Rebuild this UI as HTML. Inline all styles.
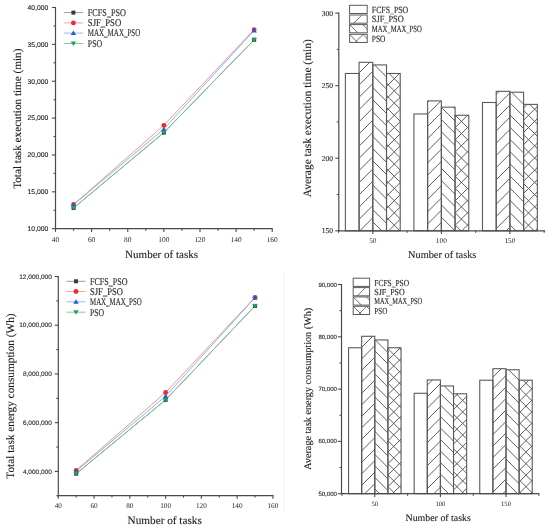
<!DOCTYPE html>
<html><head><meta charset="utf-8"><style>
html,body{margin:0;padding:0;background:#fff;width:550px;height:530px;overflow:hidden}
svg{display:block;filter:blur(0.35px)} text{text-rendering:geometricPrecision}
</style></head><body>
<svg width="550" height="530" viewBox="0 0 550 530">
<rect width="550" height="530" fill="#fff"/>
<defs><clipPath id="clip1"><rect x="0" y="0" width="275" height="265"/></clipPath></defs>
<line x1="284" y1="272" x2="284" y2="511" stroke="#f1f1f1" stroke-width="1"/>
<g>
<line x1="55.50" y1="6.90" x2="55.50" y2="229.30" stroke="#4a4a4a" stroke-width="1.2" />
<line x1="54.90" y1="228.70" x2="272.80" y2="228.70" stroke="#4a4a4a" stroke-width="1.2" />
<line x1="51.90" y1="228.70" x2="55.50" y2="228.70" stroke="#4a4a4a" stroke-width="1.1" />
<line x1="53.50" y1="210.27" x2="55.50" y2="210.27" stroke="#4a4a4a" stroke-width="1.1" />
<line x1="51.90" y1="191.83" x2="55.50" y2="191.83" stroke="#4a4a4a" stroke-width="1.1" />
<line x1="53.50" y1="173.40" x2="55.50" y2="173.40" stroke="#4a4a4a" stroke-width="1.1" />
<line x1="51.90" y1="154.97" x2="55.50" y2="154.97" stroke="#4a4a4a" stroke-width="1.1" />
<line x1="53.50" y1="136.53" x2="55.50" y2="136.53" stroke="#4a4a4a" stroke-width="1.1" />
<line x1="51.90" y1="118.10" x2="55.50" y2="118.10" stroke="#4a4a4a" stroke-width="1.1" />
<line x1="53.50" y1="99.67" x2="55.50" y2="99.67" stroke="#4a4a4a" stroke-width="1.1" />
<line x1="51.90" y1="81.23" x2="55.50" y2="81.23" stroke="#4a4a4a" stroke-width="1.1" />
<line x1="53.50" y1="62.80" x2="55.50" y2="62.80" stroke="#4a4a4a" stroke-width="1.1" />
<line x1="51.90" y1="44.37" x2="55.50" y2="44.37" stroke="#4a4a4a" stroke-width="1.1" />
<line x1="53.50" y1="25.93" x2="55.50" y2="25.93" stroke="#4a4a4a" stroke-width="1.1" />
<line x1="51.90" y1="7.50" x2="55.50" y2="7.50" stroke="#4a4a4a" stroke-width="1.1" />
<line x1="55.50" y1="228.70" x2="55.50" y2="231.90" stroke="#4a4a4a" stroke-width="1.1" />
<line x1="73.56" y1="228.70" x2="73.56" y2="230.70" stroke="#4a4a4a" stroke-width="1.1" />
<line x1="91.62" y1="228.70" x2="91.62" y2="231.90" stroke="#4a4a4a" stroke-width="1.1" />
<line x1="109.67" y1="228.70" x2="109.67" y2="230.70" stroke="#4a4a4a" stroke-width="1.1" />
<line x1="127.73" y1="228.70" x2="127.73" y2="231.90" stroke="#4a4a4a" stroke-width="1.1" />
<line x1="145.79" y1="228.70" x2="145.79" y2="230.70" stroke="#4a4a4a" stroke-width="1.1" />
<line x1="163.85" y1="228.70" x2="163.85" y2="231.90" stroke="#4a4a4a" stroke-width="1.1" />
<line x1="181.91" y1="228.70" x2="181.91" y2="230.70" stroke="#4a4a4a" stroke-width="1.1" />
<line x1="199.97" y1="228.70" x2="199.97" y2="231.90" stroke="#4a4a4a" stroke-width="1.1" />
<line x1="218.02" y1="228.70" x2="218.02" y2="230.70" stroke="#4a4a4a" stroke-width="1.1" />
<line x1="236.08" y1="228.70" x2="236.08" y2="231.90" stroke="#4a4a4a" stroke-width="1.1" />
<line x1="254.14" y1="228.70" x2="254.14" y2="230.70" stroke="#4a4a4a" stroke-width="1.1" />
<line x1="272.20" y1="228.70" x2="272.20" y2="231.90" stroke="#4a4a4a" stroke-width="1.1" />
<text x="48.40" y="231.03" font-family='"Liberation Sans", sans-serif' font-size="6.8" fill="#262626" stroke="#262626" stroke-width="0.12" text-anchor="end" >10,000</text>
<text x="48.40" y="194.16" font-family='"Liberation Sans", sans-serif' font-size="6.8" fill="#262626" stroke="#262626" stroke-width="0.12" text-anchor="end" >15,000</text>
<text x="48.40" y="157.30" font-family='"Liberation Sans", sans-serif' font-size="6.8" fill="#262626" stroke="#262626" stroke-width="0.12" text-anchor="end" >20,000</text>
<text x="48.40" y="120.43" font-family='"Liberation Sans", sans-serif' font-size="6.8" fill="#262626" stroke="#262626" stroke-width="0.12" text-anchor="end" >25,000</text>
<text x="48.40" y="83.56" font-family='"Liberation Sans", sans-serif' font-size="6.8" fill="#262626" stroke="#262626" stroke-width="0.12" text-anchor="end" >30,000</text>
<text x="48.40" y="46.70" font-family='"Liberation Sans", sans-serif' font-size="6.8" fill="#262626" stroke="#262626" stroke-width="0.12" text-anchor="end" >35,000</text>
<text x="48.40" y="9.83" font-family='"Liberation Sans", sans-serif' font-size="6.8" fill="#262626" stroke="#262626" stroke-width="0.12" text-anchor="end" >40,000</text>
<text x="55.50" y="241.60" font-family='"Liberation Serif", serif' font-size="7.4" fill="#262626" stroke="#262626" stroke-width="0.0" text-anchor="middle" >40</text>
<text x="91.62" y="241.60" font-family='"Liberation Serif", serif' font-size="7.4" fill="#262626" stroke="#262626" stroke-width="0.0" text-anchor="middle" >60</text>
<text x="127.73" y="241.60" font-family='"Liberation Serif", serif' font-size="7.4" fill="#262626" stroke="#262626" stroke-width="0.0" text-anchor="middle" >80</text>
<text x="163.85" y="241.60" font-family='"Liberation Serif", serif' font-size="7.4" fill="#262626" stroke="#262626" stroke-width="0.0" text-anchor="middle" >100</text>
<text x="199.97" y="241.60" font-family='"Liberation Serif", serif' font-size="7.4" fill="#262626" stroke="#262626" stroke-width="0.0" text-anchor="middle" >120</text>
<text x="236.08" y="241.60" font-family='"Liberation Serif", serif' font-size="7.4" fill="#262626" stroke="#262626" stroke-width="0.0" text-anchor="middle" >140</text>
<text x="272.20" y="241.60" font-family='"Liberation Serif", serif' font-size="7.4" fill="#262626" stroke="#262626" stroke-width="0.0" text-anchor="middle" >160</text>
<text x="125.10" y="257.60" font-family='"Liberation Serif", serif' font-size="11" fill="#1a1a1a" stroke="#1a1a1a" stroke-width="0.1" text-anchor="start" textLength="72.90" lengthAdjust="spacingAndGlyphs">Number of tasks</text>
<text x="0" y="0" transform="translate(20.80,118.70) rotate(-90)" font-family='"Liberation Serif", serif' font-size="11.2" fill="#1a1a1a" stroke="#1a1a1a" stroke-width="0.1" text-anchor="middle">Total task execution time (min)</text>
<polyline points="73.56,208.00 163.85,132.60 254.14,39.80" fill="none" stroke="#909090" stroke-width="1.0"/>
<polyline points="73.56,204.50 163.85,125.30 254.14,29.60" fill="none" stroke="#f39696" stroke-width="1.0"/>
<polyline points="73.56,204.80 163.85,129.00 254.14,30.50" fill="none" stroke="#8fb1f0" stroke-width="1.0"/>
<polyline points="73.56,208.00 163.85,132.60 254.14,39.80" fill="none" stroke="#7cc39a" stroke-width="1.0"/>
<rect x="71.56" y="206.00" width="4.00" height="4.00" fill="#333d38"/>
<rect x="161.85" y="130.60" width="4.00" height="4.00" fill="#333d38"/>
<rect x="252.14" y="37.80" width="4.00" height="4.00" fill="#333d38"/>
<circle cx="73.56" cy="204.50" r="2.40" fill="#f02a2a"/>
<circle cx="163.85" cy="125.30" r="2.40" fill="#f02a2a"/>
<circle cx="254.14" cy="29.60" r="2.40" fill="#f02a2a"/>
<polygon points="73.56,202.20 76.26,206.80 70.86,206.80" fill="#1c5ce0"/>
<polygon points="163.85,126.40 166.55,131.00 161.15,131.00" fill="#1c5ce0"/>
<polygon points="254.14,27.90 256.84,32.50 251.44,32.50" fill="#1c5ce0"/>
<polygon points="73.56,210.60 76.26,206.00 70.86,206.00" fill="#23a05a"/>
<polygon points="163.85,135.20 166.55,130.60 161.15,130.60" fill="#23a05a"/>
<polygon points="254.14,42.40 256.84,37.80 251.44,37.80" fill="#23a05a"/>
<line x1="63.80" y1="12.60" x2="83.10" y2="12.60" stroke="#909090" stroke-width="0.9" />
<rect x="71.40" y="10.60" width="4.00" height="4.00" fill="#333d38"/>
<text x="87.80" y="15.95" font-family='"Liberation Serif", serif' font-size="10.31" fill="#2a2a2a" stroke="#2a2a2a" stroke-width="0.15" textLength="38.16" lengthAdjust="spacingAndGlyphs">FCFS_PSO</text>
<line x1="63.80" y1="22.90" x2="83.10" y2="22.90" stroke="#f39696" stroke-width="0.9" />
<circle cx="73.40" cy="22.90" r="2.40" fill="#f02a2a"/>
<text x="87.80" y="26.25" font-family='"Liberation Serif", serif' font-size="10.31" fill="#2a2a2a" stroke="#2a2a2a" stroke-width="0.15" textLength="33.39" lengthAdjust="spacingAndGlyphs">SJF_PSO</text>
<line x1="63.80" y1="33.10" x2="83.10" y2="33.10" stroke="#8fb1f0" stroke-width="0.9" />
<polygon points="73.40,30.50 76.10,35.10 70.70,35.10" fill="#1c5ce0"/>
<text x="87.80" y="36.45" font-family='"Liberation Serif", serif' font-size="10.31" fill="#2a2a2a" stroke="#2a2a2a" stroke-width="0.15" textLength="52.47" lengthAdjust="spacingAndGlyphs">MAX_MAX_PSO</text>
<line x1="63.80" y1="43.50" x2="83.10" y2="43.50" stroke="#7cc39a" stroke-width="0.9" />
<polygon points="73.40,46.10 76.10,41.50 70.70,41.50" fill="#23a05a"/>
<text x="87.80" y="46.85" font-family='"Liberation Serif", serif' font-size="10.31" fill="#2a2a2a" stroke="#2a2a2a" stroke-width="0.15" textLength="14.31" lengthAdjust="spacingAndGlyphs">PSO</text>
</g>
<g>
<clipPath id="c2b00"><rect x="345.38" y="73.48" width="13.71" height="157.32"/></clipPath>
<rect x="345.38" y="73.48" width="13.71" height="157.32" fill="none" stroke="#5a5a5a" stroke-width="1.1"/>
<clipPath id="c2b01"><rect x="359.09" y="62.30" width="13.71" height="168.50"/></clipPath>
<path d="M358.09,49.51L373.80,33.80M358.09,61.71L373.80,46.00M358.09,73.91L373.80,58.20M358.09,86.11L373.80,70.40M358.09,98.31L373.80,82.60M358.09,110.51L373.80,94.80M358.09,122.71L373.80,107.00M358.09,134.91L373.80,119.20M358.09,147.11L373.80,131.40M358.09,159.31L373.80,143.60M358.09,171.51L373.80,155.80M358.09,183.71L373.80,168.00M358.09,195.91L373.80,180.20M358.09,208.11L373.80,192.40M358.09,220.31L373.80,204.60M358.09,232.51L373.80,216.80M358.09,244.71L373.80,229.00M358.09,256.91L373.80,241.20" stroke="#5e5e5e" stroke-width="1.0" fill="none" clip-path="url(#c2b01)"/>
<rect x="359.09" y="62.30" width="13.71" height="168.50" fill="none" stroke="#5a5a5a" stroke-width="1.1"/>
<clipPath id="c2b02"><rect x="372.80" y="64.91" width="13.71" height="165.89"/></clipPath>
<path d="M371.80,37.80L387.51,53.51M371.80,50.00L387.51,65.71M371.80,62.20L387.51,77.91M371.80,74.40L387.51,90.11M371.80,86.60L387.51,102.31M371.80,98.80L387.51,114.51M371.80,111.00L387.51,126.71M371.80,123.20L387.51,138.91M371.80,135.40L387.51,151.11M371.80,147.60L387.51,163.31M371.80,159.80L387.51,175.51M371.80,172.00L387.51,187.71M371.80,184.20L387.51,199.91M371.80,196.40L387.51,212.11M371.80,208.60L387.51,224.31M371.80,220.80L387.51,236.51M371.80,233.00L387.51,248.71" stroke="#5e5e5e" stroke-width="1.0" fill="none" clip-path="url(#c2b02)"/>
<rect x="372.80" y="64.91" width="13.71" height="165.89" fill="none" stroke="#5a5a5a" stroke-width="1.1"/>
<clipPath id="c2b03"><rect x="386.51" y="73.48" width="13.71" height="157.32"/></clipPath>
<path d="M385.51,50.89L401.22,35.18M385.51,63.09L401.22,47.38M385.51,75.29L401.22,59.58M385.51,87.49L401.22,71.78M385.51,99.69L401.22,83.98M385.51,111.89L401.22,96.18M385.51,124.09L401.22,108.38M385.51,136.29L401.22,120.58M385.51,148.49L401.22,132.78M385.51,160.69L401.22,144.98M385.51,172.89L401.22,157.18M385.51,185.09L401.22,169.38M385.51,197.29L401.22,181.58M385.51,209.49L401.22,193.78M385.51,221.69L401.22,205.98M385.51,233.89L401.22,218.18M385.51,246.09L401.22,230.38M385.51,45.51L401.22,61.22M385.51,57.71L401.22,73.42M385.51,69.91L401.22,85.62M385.51,82.11L401.22,97.82M385.51,94.31L401.22,110.02M385.51,106.51L401.22,122.22M385.51,118.71L401.22,134.42M385.51,130.91L401.22,146.62M385.51,143.11L401.22,158.82M385.51,155.31L401.22,171.02M385.51,167.51L401.22,183.22M385.51,179.71L401.22,195.42M385.51,191.91L401.22,207.62M385.51,204.11L401.22,219.82M385.51,216.31L401.22,232.02M385.51,228.51L401.22,244.22M385.51,240.71L401.22,256.42" stroke="#5e5e5e" stroke-width="1.0" fill="none" clip-path="url(#c2b03)"/>
<rect x="386.51" y="73.48" width="13.71" height="157.32" fill="none" stroke="#5a5a5a" stroke-width="1.1"/>
<clipPath id="c2b10"><rect x="413.93" y="113.97" width="13.71" height="116.83"/></clipPath>
<rect x="413.93" y="113.97" width="13.71" height="116.83" fill="none" stroke="#5a5a5a" stroke-width="1.1"/>
<clipPath id="c2b11"><rect x="427.64" y="100.91" width="13.71" height="129.89"/></clipPath>
<path d="M426.64,78.56L442.35,62.85M426.64,90.76L442.35,75.05M426.64,102.96L442.35,87.25M426.64,115.16L442.35,99.45M426.64,127.36L442.35,111.65M426.64,139.56L442.35,123.85M426.64,151.76L442.35,136.05M426.64,163.96L442.35,148.25M426.64,176.16L442.35,160.45M426.64,188.36L442.35,172.65M426.64,200.56L442.35,184.85M426.64,212.76L442.35,197.05M426.64,224.96L442.35,209.25M426.64,237.16L442.35,221.45M426.64,249.36L442.35,233.65" stroke="#5e5e5e" stroke-width="1.0" fill="none" clip-path="url(#c2b11)"/>
<rect x="427.64" y="100.91" width="13.71" height="129.89" fill="none" stroke="#5a5a5a" stroke-width="1.1"/>
<clipPath id="c2b12"><rect x="441.35" y="107.15" width="13.71" height="123.65"/></clipPath>
<path d="M440.35,69.75L456.06,85.46M440.35,81.95L456.06,97.66M440.35,94.15L456.06,109.86M440.35,106.35L456.06,122.06M440.35,118.55L456.06,134.26M440.35,130.75L456.06,146.46M440.35,142.95L456.06,158.66M440.35,155.15L456.06,170.86M440.35,167.35L456.06,183.06M440.35,179.55L456.06,195.26M440.35,191.75L456.06,207.46M440.35,203.95L456.06,219.66M440.35,216.15L456.06,231.86M440.35,228.35L456.06,244.06M440.35,240.55L456.06,256.26" stroke="#5e5e5e" stroke-width="1.0" fill="none" clip-path="url(#c2b12)"/>
<rect x="441.35" y="107.15" width="13.71" height="123.65" fill="none" stroke="#5a5a5a" stroke-width="1.1"/>
<clipPath id="c2b13"><rect x="455.06" y="115.27" width="13.71" height="115.53"/></clipPath>
<path d="M454.06,92.14L469.77,76.43M454.06,104.34L469.77,88.63M454.06,116.54L469.77,100.83M454.06,128.74L469.77,113.03M454.06,140.94L469.77,125.23M454.06,153.14L469.77,137.43M454.06,165.34L469.77,149.63M454.06,177.54L469.77,161.83M454.06,189.74L469.77,174.03M454.06,201.94L469.77,186.23M454.06,214.14L469.77,198.43M454.06,226.34L469.77,210.63M454.06,238.54L469.77,222.83M454.06,250.74L469.77,235.03M454.06,77.46L469.77,93.17M454.06,89.66L469.77,105.37M454.06,101.86L469.77,117.57M454.06,114.06L469.77,129.77M454.06,126.26L469.77,141.97M454.06,138.46L469.77,154.17M454.06,150.66L469.77,166.37M454.06,162.86L469.77,178.57M454.06,175.06L469.77,190.77M454.06,187.26L469.77,202.97M454.06,199.46L469.77,215.17M454.06,211.66L469.77,227.37M454.06,223.86L469.77,239.57M454.06,236.06L469.77,251.77" stroke="#5e5e5e" stroke-width="1.0" fill="none" clip-path="url(#c2b13)"/>
<rect x="455.06" y="115.27" width="13.71" height="115.53" fill="none" stroke="#5a5a5a" stroke-width="1.1"/>
<clipPath id="c2b20"><rect x="482.48" y="102.50" width="13.71" height="128.30"/></clipPath>
<rect x="482.48" y="102.50" width="13.71" height="128.30" fill="none" stroke="#5a5a5a" stroke-width="1.1"/>
<clipPath id="c2b21"><rect x="496.19" y="91.33" width="13.71" height="139.47"/></clipPath>
<path d="M495.19,71.01L510.90,55.30M495.19,83.21L510.90,67.50M495.19,95.41L510.90,79.70M495.19,107.61L510.90,91.90M495.19,119.81L510.90,104.10M495.19,132.01L510.90,116.30M495.19,144.21L510.90,128.50M495.19,156.41L510.90,140.70M495.19,168.61L510.90,152.90M495.19,180.81L510.90,165.10M495.19,193.01L510.90,177.30M495.19,205.21L510.90,189.50M495.19,217.41L510.90,201.70M495.19,229.61L510.90,213.90M495.19,241.81L510.90,226.10M495.19,254.01L510.90,238.30" stroke="#5e5e5e" stroke-width="1.0" fill="none" clip-path="url(#c2b21)"/>
<rect x="496.19" y="91.33" width="13.71" height="139.47" fill="none" stroke="#5a5a5a" stroke-width="1.1"/>
<clipPath id="c2b22"><rect x="509.90" y="92.20" width="13.71" height="138.60"/></clipPath>
<path d="M508.90,65.10L524.61,80.81M508.90,77.30L524.61,93.01M508.90,89.50L524.61,105.21M508.90,101.70L524.61,117.41M508.90,113.90L524.61,129.61M508.90,126.10L524.61,141.81M508.90,138.30L524.61,154.01M508.90,150.50L524.61,166.21M508.90,162.70L524.61,178.41M508.90,174.90L524.61,190.61M508.90,187.10L524.61,202.81M508.90,199.30L524.61,215.01M508.90,211.50L524.61,227.21M508.90,223.70L524.61,239.41M508.90,235.90L524.61,251.61" stroke="#5e5e5e" stroke-width="1.0" fill="none" clip-path="url(#c2b22)"/>
<rect x="509.90" y="92.20" width="13.71" height="138.60" fill="none" stroke="#5a5a5a" stroke-width="1.1"/>
<clipPath id="c2b23"><rect x="523.61" y="104.39" width="13.71" height="126.41"/></clipPath>
<path d="M522.61,84.59L538.32,68.88M522.61,96.79L538.32,81.08M522.61,108.99L538.32,93.28M522.61,121.19L538.32,105.48M522.61,133.39L538.32,117.68M522.61,145.59L538.32,129.88M522.61,157.79L538.32,142.08M522.61,169.99L538.32,154.28M522.61,182.19L538.32,166.48M522.61,194.39L538.32,178.68M522.61,206.59L538.32,190.88M522.61,218.79L538.32,203.08M522.61,230.99L538.32,215.28M522.61,243.19L538.32,227.48M522.61,255.39L538.32,239.68M522.61,72.81L538.32,88.52M522.61,85.01L538.32,100.72M522.61,97.21L538.32,112.92M522.61,109.41L538.32,125.12M522.61,121.61L538.32,137.32M522.61,133.81L538.32,149.52M522.61,146.01L538.32,161.72M522.61,158.21L538.32,173.92M522.61,170.41L538.32,186.12M522.61,182.61L538.32,198.32M522.61,194.81L538.32,210.52M522.61,207.01L538.32,222.72M522.61,219.21L538.32,234.92M522.61,231.41L538.32,247.12" stroke="#5e5e5e" stroke-width="1.0" fill="none" clip-path="url(#c2b23)"/>
<rect x="523.61" y="104.39" width="13.71" height="126.41" fill="none" stroke="#5a5a5a" stroke-width="1.1"/>
<line x1="338.80" y1="12.50" x2="338.80" y2="231.40" stroke="#4a4a4a" stroke-width="1.2" />
<line x1="338.20" y1="230.80" x2="545.10" y2="230.80" stroke="#4a4a4a" stroke-width="1.2" />
<line x1="335.20" y1="230.80" x2="338.80" y2="230.80" stroke="#4a4a4a" stroke-width="1.1" />
<line x1="336.80" y1="194.52" x2="338.80" y2="194.52" stroke="#4a4a4a" stroke-width="1.1" />
<line x1="335.20" y1="158.23" x2="338.80" y2="158.23" stroke="#4a4a4a" stroke-width="1.1" />
<line x1="336.80" y1="121.95" x2="338.80" y2="121.95" stroke="#4a4a4a" stroke-width="1.1" />
<line x1="335.20" y1="85.67" x2="338.80" y2="85.67" stroke="#4a4a4a" stroke-width="1.1" />
<line x1="336.80" y1="49.38" x2="338.80" y2="49.38" stroke="#4a4a4a" stroke-width="1.1" />
<line x1="335.20" y1="13.10" x2="338.80" y2="13.10" stroke="#4a4a4a" stroke-width="1.1" />
<line x1="372.80" y1="230.80" x2="372.80" y2="234.00" stroke="#4a4a4a" stroke-width="1.1" />
<line x1="441.35" y1="230.80" x2="441.35" y2="234.00" stroke="#4a4a4a" stroke-width="1.1" />
<line x1="509.90" y1="230.80" x2="509.90" y2="234.00" stroke="#4a4a4a" stroke-width="1.1" />
<line x1="338.52" y1="230.80" x2="338.52" y2="232.80" stroke="#4a4a4a" stroke-width="1.1" />
<line x1="407.07" y1="230.80" x2="407.07" y2="232.80" stroke="#4a4a4a" stroke-width="1.1" />
<line x1="475.62" y1="230.80" x2="475.62" y2="232.80" stroke="#4a4a4a" stroke-width="1.1" />
<line x1="544.17" y1="230.80" x2="544.17" y2="232.80" stroke="#4a4a4a" stroke-width="1.1" />
<text x="333.00" y="233.24" font-family='"Liberation Serif", serif' font-size="7.5" fill="#262626" stroke="#262626" stroke-width="0.12" text-anchor="end" >150</text>
<text x="333.00" y="160.67" font-family='"Liberation Serif", serif' font-size="7.5" fill="#262626" stroke="#262626" stroke-width="0.12" text-anchor="end" >200</text>
<text x="333.00" y="88.10" font-family='"Liberation Serif", serif' font-size="7.5" fill="#262626" stroke="#262626" stroke-width="0.12" text-anchor="end" >250</text>
<text x="333.00" y="15.54" font-family='"Liberation Serif", serif' font-size="7.5" fill="#262626" stroke="#262626" stroke-width="0.12" text-anchor="end" >300</text>
<text x="372.80" y="243.17" font-family='"Liberation Serif", serif' font-size="7.3" fill="#262626" stroke="#262626" stroke-width="0.0" text-anchor="middle" >50</text>
<text x="441.35" y="243.17" font-family='"Liberation Serif", serif' font-size="7.3" fill="#262626" stroke="#262626" stroke-width="0.0" text-anchor="middle" >100</text>
<text x="509.90" y="243.17" font-family='"Liberation Serif", serif' font-size="7.3" fill="#262626" stroke="#262626" stroke-width="0.0" text-anchor="middle" >150</text>
<text x="408.00" y="258.30" font-family='"Liberation Serif", serif' font-size="10.35" fill="#1a1a1a" stroke="#1a1a1a" stroke-width="0.1" text-anchor="start" textLength="68.40" lengthAdjust="spacingAndGlyphs">Number of tasks</text>
<text x="0" y="0" transform="translate(311.20,118.20) rotate(-90)" font-family='"Liberation Serif", serif' font-size="11.45" fill="#1a1a1a" stroke="#1a1a1a" stroke-width="0.1" text-anchor="middle">Average task execution time (min)</text>
<clipPath id="c2leg0"><rect x="349.60" y="5.30" width="17.60" height="8.20"/></clipPath>
<rect x="349.60" y="5.30" width="17.60" height="8.20" fill="none" stroke="#5a5a5a" stroke-width="1.0"/>
<text x="371.80" y="12.75" font-family='"Liberation Serif", serif' font-size="9.54" fill="#2a2a2a" stroke="#2a2a2a" stroke-width="0.15" textLength="36.40" lengthAdjust="spacingAndGlyphs">FCFS_PSO</text>
<clipPath id="c2leg1"><rect x="349.60" y="15.00" width="17.60" height="8.20"/></clipPath>
<path d="M353.70,23.20L361.90,15.00" stroke="#5e5e5e" stroke-width="0.9" fill="none" clip-path="url(#c2leg1)"/>
<rect x="349.60" y="15.00" width="17.60" height="8.20" fill="none" stroke="#5a5a5a" stroke-width="1.0"/>
<text x="371.80" y="22.45" font-family='"Liberation Serif", serif' font-size="9.54" fill="#2a2a2a" stroke="#2a2a2a" stroke-width="0.15" textLength="31.85" lengthAdjust="spacingAndGlyphs">SJF_PSO</text>
<clipPath id="c2leg2"><rect x="349.60" y="24.60" width="17.60" height="8.20"/></clipPath>
<path d="M349.60,24.60L357.80,32.80M362.80,24.60L371.00,32.80" stroke="#5e5e5e" stroke-width="0.9" fill="none" clip-path="url(#c2leg2)"/>
<rect x="349.60" y="24.60" width="17.60" height="8.20" fill="none" stroke="#5a5a5a" stroke-width="1.0"/>
<text x="371.80" y="32.05" font-family='"Liberation Serif", serif' font-size="9.54" fill="#2a2a2a" stroke="#2a2a2a" stroke-width="0.15" textLength="50.05" lengthAdjust="spacingAndGlyphs">MAX_MAX_PSO</text>
<clipPath id="c2leg3"><rect x="349.60" y="34.30" width="17.60" height="8.20"/></clipPath>
<path d="M349.60,34.30L357.80,42.50M362.80,34.30L371.00,42.50M355.00,42.50L363.20,34.30" stroke="#5e5e5e" stroke-width="0.9" fill="none" clip-path="url(#c2leg3)"/>
<rect x="349.60" y="34.30" width="17.60" height="8.20" fill="none" stroke="#5a5a5a" stroke-width="1.0"/>
<text x="371.80" y="41.75" font-family='"Liberation Serif", serif' font-size="9.54" fill="#2a2a2a" stroke="#2a2a2a" stroke-width="0.15" textLength="13.65" lengthAdjust="spacingAndGlyphs">PSO</text>
</g>
<g>
<line x1="58.30" y1="275.90" x2="58.30" y2="496.20" stroke="#4a4a4a" stroke-width="1.2" />
<line x1="57.70" y1="495.60" x2="273.50" y2="495.60" stroke="#4a4a4a" stroke-width="1.2" />
<line x1="56.30" y1="495.76" x2="58.30" y2="495.76" stroke="#4a4a4a" stroke-width="1.1" />
<line x1="54.70" y1="471.40" x2="58.30" y2="471.40" stroke="#4a4a4a" stroke-width="1.1" />
<line x1="56.30" y1="447.04" x2="58.30" y2="447.04" stroke="#4a4a4a" stroke-width="1.1" />
<line x1="54.70" y1="422.68" x2="58.30" y2="422.68" stroke="#4a4a4a" stroke-width="1.1" />
<line x1="56.30" y1="398.32" x2="58.30" y2="398.32" stroke="#4a4a4a" stroke-width="1.1" />
<line x1="54.70" y1="373.96" x2="58.30" y2="373.96" stroke="#4a4a4a" stroke-width="1.1" />
<line x1="56.30" y1="349.60" x2="58.30" y2="349.60" stroke="#4a4a4a" stroke-width="1.1" />
<line x1="54.70" y1="325.24" x2="58.30" y2="325.24" stroke="#4a4a4a" stroke-width="1.1" />
<line x1="56.30" y1="300.88" x2="58.30" y2="300.88" stroke="#4a4a4a" stroke-width="1.1" />
<line x1="54.70" y1="276.52" x2="58.30" y2="276.52" stroke="#4a4a4a" stroke-width="1.1" />
<line x1="58.30" y1="495.60" x2="58.30" y2="498.80" stroke="#4a4a4a" stroke-width="1.1" />
<line x1="76.18" y1="495.60" x2="76.18" y2="497.60" stroke="#4a4a4a" stroke-width="1.1" />
<line x1="94.07" y1="495.60" x2="94.07" y2="498.80" stroke="#4a4a4a" stroke-width="1.1" />
<line x1="111.95" y1="495.60" x2="111.95" y2="497.60" stroke="#4a4a4a" stroke-width="1.1" />
<line x1="129.83" y1="495.60" x2="129.83" y2="498.80" stroke="#4a4a4a" stroke-width="1.1" />
<line x1="147.72" y1="495.60" x2="147.72" y2="497.60" stroke="#4a4a4a" stroke-width="1.1" />
<line x1="165.60" y1="495.60" x2="165.60" y2="498.80" stroke="#4a4a4a" stroke-width="1.1" />
<line x1="183.48" y1="495.60" x2="183.48" y2="497.60" stroke="#4a4a4a" stroke-width="1.1" />
<line x1="201.37" y1="495.60" x2="201.37" y2="498.80" stroke="#4a4a4a" stroke-width="1.1" />
<line x1="219.25" y1="495.60" x2="219.25" y2="497.60" stroke="#4a4a4a" stroke-width="1.1" />
<line x1="237.13" y1="495.60" x2="237.13" y2="498.80" stroke="#4a4a4a" stroke-width="1.1" />
<line x1="255.02" y1="495.60" x2="255.02" y2="497.60" stroke="#4a4a4a" stroke-width="1.1" />
<line x1="272.90" y1="495.60" x2="272.90" y2="498.80" stroke="#4a4a4a" stroke-width="1.1" />
<text x="51.80" y="473.63" font-family='"Liberation Sans", sans-serif' font-size="6.5" fill="#262626" stroke="#262626" stroke-width="0.12" text-anchor="end" >4,000,000</text>
<text x="51.80" y="424.91" font-family='"Liberation Sans", sans-serif' font-size="6.5" fill="#262626" stroke="#262626" stroke-width="0.12" text-anchor="end" >6,000,000</text>
<text x="51.80" y="376.19" font-family='"Liberation Sans", sans-serif' font-size="6.5" fill="#262626" stroke="#262626" stroke-width="0.12" text-anchor="end" >8,000,000</text>
<text x="51.80" y="327.47" font-family='"Liberation Sans", sans-serif' font-size="6.5" fill="#262626" stroke="#262626" stroke-width="0.12" text-anchor="end" >10,000,000</text>
<text x="51.80" y="278.75" font-family='"Liberation Sans", sans-serif' font-size="6.5" fill="#262626" stroke="#262626" stroke-width="0.12" text-anchor="end" >12,000,000</text>
<text x="58.30" y="508.34" font-family='"Liberation Serif", serif' font-size="7.2" fill="#262626" stroke="#262626" stroke-width="0.0" text-anchor="middle" >40</text>
<text x="94.07" y="508.34" font-family='"Liberation Serif", serif' font-size="7.2" fill="#262626" stroke="#262626" stroke-width="0.0" text-anchor="middle" >60</text>
<text x="129.83" y="508.34" font-family='"Liberation Serif", serif' font-size="7.2" fill="#262626" stroke="#262626" stroke-width="0.0" text-anchor="middle" >80</text>
<text x="165.60" y="508.34" font-family='"Liberation Serif", serif' font-size="7.2" fill="#262626" stroke="#262626" stroke-width="0.0" text-anchor="middle" >100</text>
<text x="201.37" y="508.34" font-family='"Liberation Serif", serif' font-size="7.2" fill="#262626" stroke="#262626" stroke-width="0.0" text-anchor="middle" >120</text>
<text x="237.13" y="508.34" font-family='"Liberation Serif", serif' font-size="7.2" fill="#262626" stroke="#262626" stroke-width="0.0" text-anchor="middle" >140</text>
<text x="272.90" y="508.34" font-family='"Liberation Serif", serif' font-size="7.2" fill="#262626" stroke="#262626" stroke-width="0.0" text-anchor="middle" >160</text>
<text x="127.60" y="524.10" font-family='"Liberation Serif", serif' font-size="11.2" fill="#1a1a1a" stroke="#1a1a1a" stroke-width="0.1" text-anchor="start" textLength="74.20" lengthAdjust="spacingAndGlyphs">Number of tasks</text>
<text x="0" y="0" transform="translate(14.40,396.00) rotate(-90)" font-family='"Liberation Serif", serif' font-size="11.3" fill="#1a1a1a" stroke="#1a1a1a" stroke-width="0.1" text-anchor="middle">Total task energy consumption (Wh)</text>
<polyline points="76.18,473.70 165.60,399.90 255.02,305.90" fill="none" stroke="#909090" stroke-width="1.0"/>
<polyline points="76.18,470.30 165.60,392.50 255.02,297.30" fill="none" stroke="#f39696" stroke-width="1.0"/>
<polyline points="76.18,471.00 165.60,396.20 255.02,297.70" fill="none" stroke="#8fb1f0" stroke-width="1.0"/>
<polyline points="76.18,473.70 165.60,399.90 255.02,305.90" fill="none" stroke="#7cc39a" stroke-width="1.0"/>
<rect x="74.18" y="471.70" width="4.00" height="4.00" fill="#333d38"/>
<rect x="163.60" y="397.90" width="4.00" height="4.00" fill="#333d38"/>
<rect x="253.02" y="303.90" width="4.00" height="4.00" fill="#333d38"/>
<circle cx="76.18" cy="470.30" r="2.40" fill="#f02a2a"/>
<circle cx="165.60" cy="392.50" r="2.40" fill="#f02a2a"/>
<circle cx="255.02" cy="297.30" r="2.40" fill="#f02a2a"/>
<polygon points="76.18,468.40 78.88,473.00 73.48,473.00" fill="#1c5ce0"/>
<polygon points="165.60,393.60 168.30,398.20 162.90,398.20" fill="#1c5ce0"/>
<polygon points="255.02,295.10 257.72,299.70 252.32,299.70" fill="#1c5ce0"/>
<polygon points="76.18,476.30 78.88,471.70 73.48,471.70" fill="#23a05a"/>
<polygon points="165.60,402.50 168.30,397.90 162.90,397.90" fill="#23a05a"/>
<polygon points="255.02,308.50 257.72,303.90 252.32,303.90" fill="#23a05a"/>
<line x1="66.40" y1="281.30" x2="85.50" y2="281.30" stroke="#909090" stroke-width="0.9" />
<rect x="74.00" y="279.30" width="4.00" height="4.00" fill="#333d38"/>
<text x="90.00" y="284.65" font-family='"Liberation Serif", serif' font-size="10.31" fill="#2a2a2a" stroke="#2a2a2a" stroke-width="0.15" textLength="37.60" lengthAdjust="spacingAndGlyphs">FCFS_PSO</text>
<line x1="66.40" y1="291.50" x2="85.50" y2="291.50" stroke="#f39696" stroke-width="0.9" />
<circle cx="76.00" cy="291.50" r="2.40" fill="#f02a2a"/>
<text x="90.00" y="294.85" font-family='"Liberation Serif", serif' font-size="10.31" fill="#2a2a2a" stroke="#2a2a2a" stroke-width="0.15" textLength="32.90" lengthAdjust="spacingAndGlyphs">SJF_PSO</text>
<line x1="66.40" y1="301.80" x2="85.50" y2="301.80" stroke="#8fb1f0" stroke-width="0.9" />
<polygon points="76.00,299.20 78.70,303.80 73.30,303.80" fill="#1c5ce0"/>
<text x="90.00" y="305.15" font-family='"Liberation Serif", serif' font-size="10.31" fill="#2a2a2a" stroke="#2a2a2a" stroke-width="0.15" textLength="51.70" lengthAdjust="spacingAndGlyphs">MAX_MAX_PSO</text>
<line x1="66.40" y1="312.20" x2="85.50" y2="312.20" stroke="#7cc39a" stroke-width="0.9" />
<polygon points="76.00,314.80 78.70,310.20 73.30,310.20" fill="#23a05a"/>
<text x="90.00" y="315.55" font-family='"Liberation Serif", serif' font-size="10.31" fill="#2a2a2a" stroke="#2a2a2a" stroke-width="0.15" textLength="14.10" lengthAdjust="spacingAndGlyphs">PSO</text>
</g>
<g>
<clipPath id="c4b00"><rect x="348.56" y="347.78" width="13.12" height="145.92"/></clipPath>
<rect x="348.56" y="347.78" width="13.12" height="145.92" fill="none" stroke="#5a5a5a" stroke-width="1.1"/>
<clipPath id="c4b01"><rect x="361.68" y="336.28" width="13.12" height="157.42"/></clipPath>
<path d="M360.68,325.32L375.80,310.20M360.68,336.82L375.80,321.70M360.68,348.32L375.80,333.20M360.68,359.82L375.80,344.70M360.68,371.32L375.80,356.20M360.68,382.82L375.80,367.70M360.68,394.32L375.80,379.20M360.68,405.82L375.80,390.70M360.68,417.32L375.80,402.20M360.68,428.82L375.80,413.70M360.68,440.32L375.80,425.20M360.68,451.82L375.80,436.70M360.68,463.32L375.80,448.20M360.68,474.82L375.80,459.70M360.68,486.32L375.80,471.20M360.68,497.82L375.80,482.70M360.68,509.32L375.80,494.20" stroke="#5e5e5e" stroke-width="1.0" fill="none" clip-path="url(#c4b01)"/>
<rect x="361.68" y="336.28" width="13.12" height="157.42" fill="none" stroke="#5a5a5a" stroke-width="1.1"/>
<clipPath id="c4b02"><rect x="374.80" y="339.94" width="13.12" height="153.76"/></clipPath>
<path d="M373.80,303.90L388.92,319.02M373.80,315.40L388.92,330.52M373.80,326.90L388.92,342.02M373.80,338.40L388.92,353.52M373.80,349.90L388.92,365.02M373.80,361.40L388.92,376.52M373.80,372.90L388.92,388.02M373.80,384.40L388.92,399.52M373.80,395.90L388.92,411.02M373.80,407.40L388.92,422.52M373.80,418.90L388.92,434.02M373.80,430.40L388.92,445.52M373.80,441.90L388.92,457.02M373.80,453.40L388.92,468.52M373.80,464.90L388.92,480.02M373.80,476.40L388.92,491.52M373.80,487.90L388.92,503.02M373.80,499.40L388.92,514.52" stroke="#5e5e5e" stroke-width="1.0" fill="none" clip-path="url(#c4b02)"/>
<rect x="374.80" y="339.94" width="13.12" height="153.76" fill="none" stroke="#5a5a5a" stroke-width="1.1"/>
<clipPath id="c4b03"><rect x="387.92" y="347.78" width="13.12" height="145.92"/></clipPath>
<path d="M386.92,326.68L402.04,311.56M386.92,338.18L402.04,323.06M386.92,349.68L402.04,334.56M386.92,361.18L402.04,346.06M386.92,372.68L402.04,357.56M386.92,384.18L402.04,369.06M386.92,395.68L402.04,380.56M386.92,407.18L402.04,392.06M386.92,418.68L402.04,403.56M386.92,430.18L402.04,415.06M386.92,441.68L402.04,426.56M386.92,453.18L402.04,438.06M386.92,464.68L402.04,449.56M386.92,476.18L402.04,461.06M386.92,487.68L402.04,472.56M386.92,499.18L402.04,484.06M386.92,510.68L402.04,495.56M386.92,313.12L402.04,328.24M386.92,324.62L402.04,339.74M386.92,336.12L402.04,351.24M386.92,347.62L402.04,362.74M386.92,359.12L402.04,374.24M386.92,370.62L402.04,385.74M386.92,382.12L402.04,397.24M386.92,393.62L402.04,408.74M386.92,405.12L402.04,420.24M386.92,416.62L402.04,431.74M386.92,428.12L402.04,443.24M386.92,439.62L402.04,454.74M386.92,451.12L402.04,466.24M386.92,462.62L402.04,477.74M386.92,474.12L402.04,489.24M386.92,485.62L402.04,500.74M386.92,497.12L402.04,512.24" stroke="#5e5e5e" stroke-width="1.0" fill="none" clip-path="url(#c4b03)"/>
<rect x="387.92" y="347.78" width="13.12" height="145.92" fill="none" stroke="#5a5a5a" stroke-width="1.1"/>
<clipPath id="c4b10"><rect x="414.16" y="393.28" width="13.12" height="100.42"/></clipPath>
<rect x="414.16" y="393.28" width="13.12" height="100.42" fill="none" stroke="#5a5a5a" stroke-width="1.1"/>
<clipPath id="c4b11"><rect x="427.28" y="379.95" width="13.12" height="113.75"/></clipPath>
<path d="M426.28,363.22L441.40,348.10M426.28,374.72L441.40,359.60M426.28,386.22L441.40,371.10M426.28,397.72L441.40,382.60M426.28,409.22L441.40,394.10M426.28,420.72L441.40,405.60M426.28,432.22L441.40,417.10M426.28,443.72L441.40,428.60M426.28,455.22L441.40,440.10M426.28,466.72L441.40,451.60M426.28,478.22L441.40,463.10M426.28,489.72L441.40,474.60M426.28,501.22L441.40,486.10M426.28,512.72L441.40,497.60" stroke="#5e5e5e" stroke-width="1.0" fill="none" clip-path="url(#c4b11)"/>
<rect x="427.28" y="379.95" width="13.12" height="113.75" fill="none" stroke="#5a5a5a" stroke-width="1.1"/>
<clipPath id="c4b12"><rect x="440.40" y="385.96" width="13.12" height="107.74"/></clipPath>
<path d="M439.40,358.00L454.52,373.12M439.40,369.50L454.52,384.62M439.40,381.00L454.52,396.12M439.40,392.50L454.52,407.62M439.40,404.00L454.52,419.12M439.40,415.50L454.52,430.62M439.40,427.00L454.52,442.12M439.40,438.50L454.52,453.62M439.40,450.00L454.52,465.12M439.40,461.50L454.52,476.62M439.40,473.00L454.52,488.12M439.40,484.50L454.52,499.62M439.40,496.00L454.52,511.12" stroke="#5e5e5e" stroke-width="1.0" fill="none" clip-path="url(#c4b12)"/>
<rect x="440.40" y="385.96" width="13.12" height="107.74" fill="none" stroke="#5a5a5a" stroke-width="1.1"/>
<clipPath id="c4b13"><rect x="453.52" y="393.81" width="13.12" height="99.89"/></clipPath>
<path d="M452.52,376.08L467.64,360.96M452.52,387.58L467.64,372.46M452.52,399.08L467.64,383.96M452.52,410.58L467.64,395.46M452.52,422.08L467.64,406.96M452.52,433.58L467.64,418.46M452.52,445.08L467.64,429.96M452.52,456.58L467.64,441.46M452.52,468.08L467.64,452.96M452.52,479.58L467.64,464.46M452.52,491.08L467.64,475.96M452.52,502.58L467.64,487.46M452.52,514.08L467.64,498.96M452.52,367.22L467.64,382.34M452.52,378.72L467.64,393.84M452.52,390.22L467.64,405.34M452.52,401.72L467.64,416.84M452.52,413.22L467.64,428.34M452.52,424.72L467.64,439.84M452.52,436.22L467.64,451.34M452.52,447.72L467.64,462.84M452.52,459.22L467.64,474.34M452.52,470.72L467.64,485.84M452.52,482.22L467.64,497.34M452.52,493.72L467.64,508.84" stroke="#5e5e5e" stroke-width="1.0" fill="none" clip-path="url(#c4b13)"/>
<rect x="453.52" y="393.81" width="13.12" height="99.89" fill="none" stroke="#5a5a5a" stroke-width="1.1"/>
<clipPath id="c4b20"><rect x="479.76" y="380.21" width="13.12" height="113.49"/></clipPath>
<rect x="479.76" y="380.21" width="13.12" height="113.49" fill="none" stroke="#5a5a5a" stroke-width="1.1"/>
<clipPath id="c4b21"><rect x="492.88" y="368.70" width="13.12" height="125.00"/></clipPath>
<path d="M491.88,355.12L507.00,340.00M491.88,366.62L507.00,351.50M491.88,378.12L507.00,363.00M491.88,389.62L507.00,374.50M491.88,401.12L507.00,386.00M491.88,412.62L507.00,397.50M491.88,424.12L507.00,409.00M491.88,435.62L507.00,420.50M491.88,447.12L507.00,432.00M491.88,458.62L507.00,443.50M491.88,470.12L507.00,455.00M491.88,481.62L507.00,466.50M491.88,493.12L507.00,478.00M491.88,504.62L507.00,489.50M491.88,516.12L507.00,501.00" stroke="#5e5e5e" stroke-width="1.0" fill="none" clip-path="url(#c4b21)"/>
<rect x="492.88" y="368.70" width="13.12" height="125.00" fill="none" stroke="#5a5a5a" stroke-width="1.1"/>
<clipPath id="c4b22"><rect x="506.00" y="369.75" width="13.12" height="123.95"/></clipPath>
<path d="M505.00,343.10L520.12,358.22M505.00,354.60L520.12,369.72M505.00,366.10L520.12,381.22M505.00,377.60L520.12,392.72M505.00,389.10L520.12,404.22M505.00,400.60L520.12,415.72M505.00,412.10L520.12,427.22M505.00,423.60L520.12,438.72M505.00,435.10L520.12,450.22M505.00,446.60L520.12,461.72M505.00,458.10L520.12,473.22M505.00,469.60L520.12,484.72M505.00,481.10L520.12,496.22M505.00,492.60L520.12,507.72M505.00,504.10L520.12,519.22" stroke="#5e5e5e" stroke-width="1.0" fill="none" clip-path="url(#c4b22)"/>
<rect x="506.00" y="369.75" width="13.12" height="123.95" fill="none" stroke="#5a5a5a" stroke-width="1.1"/>
<clipPath id="c4b23"><rect x="519.12" y="380.21" width="13.12" height="113.49"/></clipPath>
<path d="M518.12,367.98L533.24,352.86M518.12,379.48L533.24,364.36M518.12,390.98L533.24,375.86M518.12,402.48L533.24,387.36M518.12,413.98L533.24,398.86M518.12,425.48L533.24,410.36M518.12,436.98L533.24,421.86M518.12,448.48L533.24,433.36M518.12,459.98L533.24,444.86M518.12,471.48L533.24,456.36M518.12,482.98L533.24,467.86M518.12,494.48L533.24,479.36M518.12,505.98L533.24,490.86M518.12,517.48L533.24,502.36M518.12,352.32L533.24,367.44M518.12,363.82L533.24,378.94M518.12,375.32L533.24,390.44M518.12,386.82L533.24,401.94M518.12,398.32L533.24,413.44M518.12,409.82L533.24,424.94M518.12,421.32L533.24,436.44M518.12,432.82L533.24,447.94M518.12,444.32L533.24,459.44M518.12,455.82L533.24,470.94M518.12,467.32L533.24,482.44M518.12,478.82L533.24,493.94M518.12,490.32L533.24,505.44M518.12,501.82L533.24,516.94" stroke="#5e5e5e" stroke-width="1.0" fill="none" clip-path="url(#c4b23)"/>
<rect x="519.12" y="380.21" width="13.12" height="113.49" fill="none" stroke="#5a5a5a" stroke-width="1.1"/>
<line x1="341.50" y1="283.90" x2="341.50" y2="494.30" stroke="#4a4a4a" stroke-width="1.2" />
<line x1="340.90" y1="493.70" x2="539.30" y2="493.70" stroke="#4a4a4a" stroke-width="1.2" />
<line x1="337.90" y1="493.70" x2="341.50" y2="493.70" stroke="#4a4a4a" stroke-width="1.1" />
<line x1="339.50" y1="467.55" x2="341.50" y2="467.55" stroke="#4a4a4a" stroke-width="1.1" />
<line x1="337.90" y1="441.40" x2="341.50" y2="441.40" stroke="#4a4a4a" stroke-width="1.1" />
<line x1="339.50" y1="415.25" x2="341.50" y2="415.25" stroke="#4a4a4a" stroke-width="1.1" />
<line x1="337.90" y1="389.10" x2="341.50" y2="389.10" stroke="#4a4a4a" stroke-width="1.1" />
<line x1="339.50" y1="362.95" x2="341.50" y2="362.95" stroke="#4a4a4a" stroke-width="1.1" />
<line x1="337.90" y1="336.80" x2="341.50" y2="336.80" stroke="#4a4a4a" stroke-width="1.1" />
<line x1="339.50" y1="310.65" x2="341.50" y2="310.65" stroke="#4a4a4a" stroke-width="1.1" />
<line x1="337.90" y1="284.50" x2="341.50" y2="284.50" stroke="#4a4a4a" stroke-width="1.1" />
<line x1="374.80" y1="493.70" x2="374.80" y2="496.90" stroke="#4a4a4a" stroke-width="1.1" />
<line x1="440.40" y1="493.70" x2="440.40" y2="496.90" stroke="#4a4a4a" stroke-width="1.1" />
<line x1="506.00" y1="493.70" x2="506.00" y2="496.90" stroke="#4a4a4a" stroke-width="1.1" />
<line x1="342.00" y1="493.70" x2="342.00" y2="495.70" stroke="#4a4a4a" stroke-width="1.1" />
<line x1="407.60" y1="493.70" x2="407.60" y2="495.70" stroke="#4a4a4a" stroke-width="1.1" />
<line x1="473.20" y1="493.70" x2="473.20" y2="495.70" stroke="#4a4a4a" stroke-width="1.1" />
<line x1="538.80" y1="493.70" x2="538.80" y2="495.70" stroke="#4a4a4a" stroke-width="1.1" />
<text x="336.90" y="495.77" font-family='"Liberation Sans", sans-serif' font-size="6.05" fill="#262626" stroke="#262626" stroke-width="0.12" text-anchor="end" >50,000</text>
<text x="336.90" y="443.47" font-family='"Liberation Sans", sans-serif' font-size="6.05" fill="#262626" stroke="#262626" stroke-width="0.12" text-anchor="end" >60,000</text>
<text x="336.90" y="391.17" font-family='"Liberation Sans", sans-serif' font-size="6.05" fill="#262626" stroke="#262626" stroke-width="0.12" text-anchor="end" >70,000</text>
<text x="336.90" y="338.87" font-family='"Liberation Sans", sans-serif' font-size="6.05" fill="#262626" stroke="#262626" stroke-width="0.12" text-anchor="end" >80,000</text>
<text x="336.90" y="286.57" font-family='"Liberation Sans", sans-serif' font-size="6.05" fill="#262626" stroke="#262626" stroke-width="0.12" text-anchor="end" >90,000</text>
<text x="374.80" y="505.58" font-family='"Liberation Serif", serif' font-size="6.7" fill="#262626" stroke="#262626" stroke-width="0.0" text-anchor="middle" >50</text>
<text x="440.40" y="505.58" font-family='"Liberation Serif", serif' font-size="6.7" fill="#262626" stroke="#262626" stroke-width="0.0" text-anchor="middle" >100</text>
<text x="506.00" y="505.58" font-family='"Liberation Serif", serif' font-size="6.7" fill="#262626" stroke="#262626" stroke-width="0.0" text-anchor="middle" >150</text>
<text x="405.50" y="521.40" font-family='"Liberation Serif", serif' font-size="9.9" fill="#1a1a1a" stroke="#1a1a1a" stroke-width="0.1" text-anchor="start" textLength="65.40" lengthAdjust="spacingAndGlyphs">Number of tasks</text>
<text x="0" y="0" transform="translate(310.90,388.75) rotate(-90)" font-family='"Liberation Serif", serif' font-size="10.2" fill="#1a1a1a" stroke="#1a1a1a" stroke-width="0.1" text-anchor="middle">Average task energy consumption (Wh)</text>
<clipPath id="c4leg0"><rect x="353.20" y="278.20" width="16.40" height="8.20"/></clipPath>
<rect x="353.20" y="278.20" width="16.40" height="8.20" fill="none" stroke="#5a5a5a" stroke-width="1.0"/>
<text x="374.30" y="285.55" font-family='"Liberation Serif", serif' font-size="9.23" fill="#2a2a2a" stroke="#2a2a2a" stroke-width="0.15" textLength="34.76" lengthAdjust="spacingAndGlyphs">FCFS_PSO</text>
<clipPath id="c4leg1"><rect x="353.20" y="287.60" width="16.40" height="8.20"/></clipPath>
<path d="M357.30,295.80L365.50,287.60" stroke="#5e5e5e" stroke-width="0.9" fill="none" clip-path="url(#c4leg1)"/>
<rect x="353.20" y="287.60" width="16.40" height="8.20" fill="none" stroke="#5a5a5a" stroke-width="1.0"/>
<text x="374.30" y="294.95" font-family='"Liberation Serif", serif' font-size="9.23" fill="#2a2a2a" stroke="#2a2a2a" stroke-width="0.15" textLength="30.41" lengthAdjust="spacingAndGlyphs">SJF_PSO</text>
<clipPath id="c4leg2"><rect x="353.20" y="296.90" width="16.40" height="8.20"/></clipPath>
<path d="M353.20,296.90L361.40,305.10M366.40,296.90L374.60,305.10" stroke="#5e5e5e" stroke-width="0.9" fill="none" clip-path="url(#c4leg2)"/>
<rect x="353.20" y="296.90" width="16.40" height="8.20" fill="none" stroke="#5a5a5a" stroke-width="1.0"/>
<text x="374.30" y="304.25" font-family='"Liberation Serif", serif' font-size="9.23" fill="#2a2a2a" stroke="#2a2a2a" stroke-width="0.15" textLength="47.79" lengthAdjust="spacingAndGlyphs">MAX_MAX_PSO</text>
<clipPath id="c4leg3"><rect x="353.20" y="306.30" width="16.40" height="8.20"/></clipPath>
<path d="M353.20,306.30L361.40,314.50M366.40,306.30L374.60,314.50M358.60,314.50L366.80,306.30" stroke="#5e5e5e" stroke-width="0.9" fill="none" clip-path="url(#c4leg3)"/>
<rect x="353.20" y="306.30" width="16.40" height="8.20" fill="none" stroke="#5a5a5a" stroke-width="1.0"/>
<text x="374.30" y="313.65" font-family='"Liberation Serif", serif' font-size="9.23" fill="#2a2a2a" stroke="#2a2a2a" stroke-width="0.15" textLength="13.04" lengthAdjust="spacingAndGlyphs">PSO</text>
</g>
</svg>
</body></html>
